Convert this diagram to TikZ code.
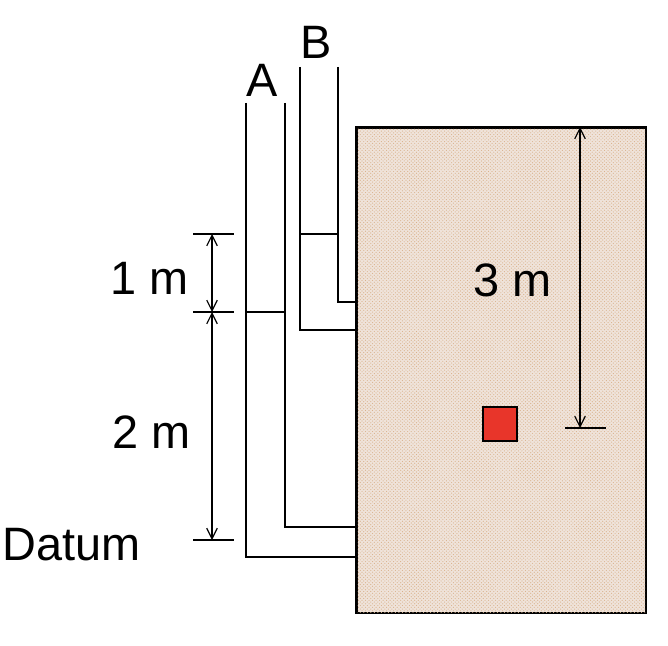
\documentclass[tikz,border=0pt]{standalone}
\usepackage{fontspec}
\setmainfont{Liberation Sans}
\usetikzlibrary{arrows.meta,patterns}
\definecolor{soil}{HTML}{EFE3DA}
\definecolor{redbox}{HTML}{E8352A}
\begin{document}
\begin{tikzpicture}[x=0.03cm,y=-0.03cm,
  wall/.style={line width=1.3pt},
  dim/.style={line width=1pt,{Straight Barb[length=9pt,width=9pt]}-{Straight Barb[length=9pt,width=9pt]}},
  tick/.style={line width=1pt},
  lbl/.style={font=\fontsize{40}{46}\selectfont,inner sep=0pt}]
\useasboundingbox (0,0) rectangle (668,646);
\node[draw,wall,fill=soil,minimum width=289*0.03cm,minimum height=485*0.03cm,inner sep=0pt,anchor=north west] (tank) at (356,127) {};
\fill[pattern=crosshatch dots,pattern color=brown!60] (356,127) rectangle (645,612);
\draw[wall] (tank.north west) rectangle (tank.south east);
% tube A
\coordinate (a1) at (246,103); \coordinate (a2) at (246,557); \coordinate (a3) at (356,557);
\coordinate (a4) at (285,103); \coordinate (a5) at (285,527); \coordinate (a6) at (356,527);
\draw[wall] (a1) -- (a2) -- (a3);
\draw[wall] (a4) -- (a5) -- (a6);
\coordinate (al) at (246,312); \coordinate (ar) at (285,312);
\draw[wall] (al) -- (ar);
% tube B
\coordinate (b1) at (300,67); \coordinate (b2) at (300,330); \coordinate (b3) at (356,330);
\coordinate (b4) at (338,67); \coordinate (b5) at (338,302); \coordinate (b6) at (356,302);
\draw[wall] (b1) -- (b2) -- (b3);
\draw[wall] (b4) -- (b5) -- (b6);
\coordinate (bl) at (300,234); \coordinate (br) at (338,234);
\draw[wall] (bl) -- (br);
\node[lbl] (A) at (262,80) {A};
\node[lbl] (B) at (316,42) {B};
% left dims
\coordinate (t1l) at (193,234); \coordinate (t1r) at (234,234);
\coordinate (t2l) at (193,312); \coordinate (t2r) at (234,312);
\coordinate (t3l) at (193,540); \coordinate (t3r) at (234,540);
\draw[tick] (t1l) -- (t1r); \draw[tick] (t2l) -- (t2r); \draw[tick] (t3l) -- (t3r);
\coordinate (d1) at (212,234); \coordinate (d2) at (212,312); \coordinate (d3) at (212,540);
\draw[dim] (d1) -- (d2);
\draw[dim] (d2) -- (d3);
\node[lbl] (l1) at (150,278) {1 m};
\node[lbl] (l2) at (152,432) {2 m};
\node[lbl] (dat) at (72,545) {Datum};
% right dim
\coordinate (r1) at (580,127); \coordinate (r2) at (580,428);
\coordinate (rt1) at (565,428); \coordinate (rt2) at (606,428);
\draw[dim] (r1) -- (r2);
\draw[tick] (rt1) -- (rt2);
\node[lbl] (l3) at (513,280) {3 m};
\node[draw,line width=1.2pt,fill=redbox,minimum size=34*0.03cm,inner sep=0pt] (sq) at (500,424) {};
\end{tikzpicture}
\end{document}
